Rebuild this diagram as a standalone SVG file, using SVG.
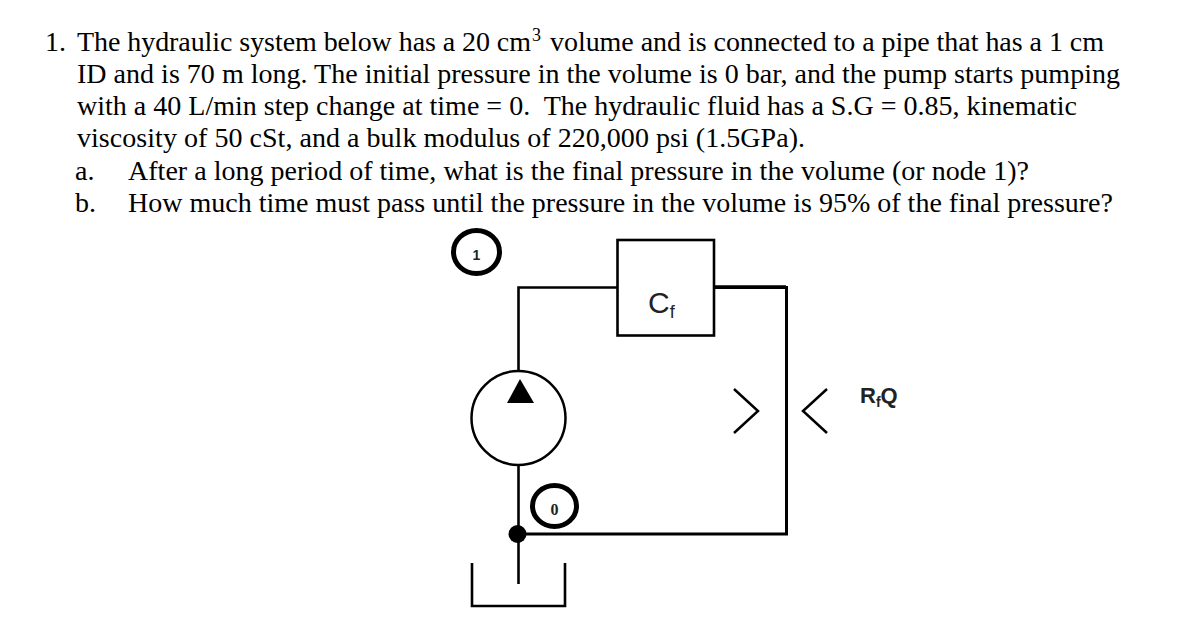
<svg xmlns="http://www.w3.org/2000/svg" width="1195" height="630" viewBox="0 0 1195 630">
<style>
.t{font-family:"Liberation Serif","Times New Roman",serif;font-size:28px;fill:#000;white-space:pre}
.s{font-family:"Liberation Sans",Arial,sans-serif;fill:#222}
.l{fill:none;stroke:#000;stroke-width:2.6}
.n{fill:#fff;stroke:#000;stroke-width:5}
</style>
<rect width="1195" height="630" fill="#fff"/>
<g id="problem-text">
<text class="t" x="45" y="51">1.</text>
<text class="t" x="77" y="51" textLength="454">The hydraulic system below has a 20 cm</text>
<text class="t" x="532" y="41" style="font-size:18px">3</text>
<text class="t" x="550" y="51" textLength="554">volume and is connected to a pipe that has a 1 cm</text>
<text class="t" x="77" y="83" textLength="1043">ID and is 70 m long. The initial pressure in the volume is 0 bar, and the pump starts pumping</text>
<text class="t" x="77" y="115" textLength="1000">with a 40 L/min step change at time = 0.  The hydraulic fluid has a S.G = 0.85, kinematic</text>
<text class="t" x="77" y="147" textLength="728">viscosity of 50 cSt, and a bulk modulus of 220,000 psi (1.5GPa).</text>
<text class="t" x="75" y="180">a.</text>
<text class="t" x="128" y="180" textLength="901">After a long period of time, what is the final pressure in the volume (or node 1)?</text>
<text class="t" x="75" y="212">b.</text>
<text class="t" x="128" y="212" textLength="985">How much time must pass until the pressure in the volume is 95% of the final pressure?</text>
</g>
<g id="connectors">
<path class="l" d="M518.500 374V287.500H617"/>
<path class="l" d="M714 287.500H786.500V534H518" style="stroke-width:3"/>
<path class="l" d="M714 287H786" style="stroke-width:3.5"/>
<path class="l" d="M518.500 462V584"/>
</g>
<g id="node-1">
<ellipse class="n" cx="476.500" cy="252" rx="23" ry="21.500"/>
<text class="s" x="476.500" y="260" text-anchor="middle" font-size="14" font-weight="bold">1</text>
</g>
<g id="node-0">
<ellipse class="n" cx="554.500" cy="506" rx="22" ry="20.500"/>
<text x="554.500" y="515" text-anchor="middle" font-size="16" font-weight="bold" font-family="'Liberation Serif',serif" fill="#222">0</text>
</g>
<g id="fitting-cf">
<rect class="l" x="617.500" y="240" width="96.500" height="95.500" fill="#fff"/>
<text class="s" x="648" y="313" font-size="30">C<tspan font-size="18" dy="5">f</tspan></text>
</g>
<g id="pump">
<circle cx="518.500" cy="418" r="47" fill="#fff" stroke="#000" stroke-width="2.500"/>
<path d="M520 379L534 403H507Z" fill="#000"/>
</g>
<g id="restriction">
<path class="l" d="M734 389L758 411L734 433M827 389L803 411L827 433" style="stroke-width:2.500"/>
<text class="s" x="860" y="403" font-size="22" font-weight="bold">R<tspan font-size="14" dy="4">f</tspan><tspan dy="-4">Q</tspan></text>
</g>
<g id="junction"><circle cx="517.500" cy="534" r="9" fill="#000"/></g>
<g id="tank"><path class="l" d="M472 563V606H565V563"/></g>
</svg>
